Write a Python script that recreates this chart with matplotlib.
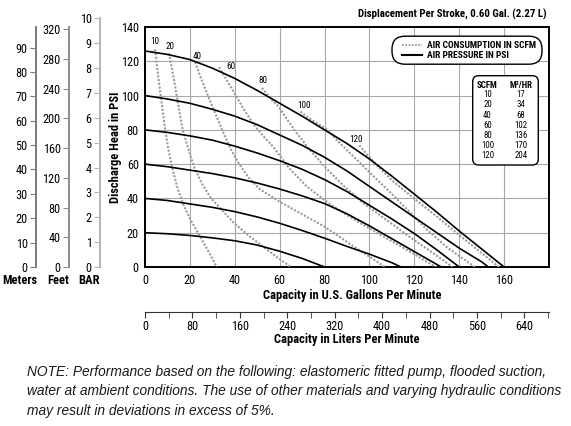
"""Diaphragm pump performance curve (air pressure / air consumption)."""

import matplotlib

matplotlib.use("Agg")
import matplotlib.pyplot as plt
from matplotlib import font_manager
from matplotlib.lines import Line2D
from matplotlib.patches import FancyBboxPatch

# --- data --------------------------------------------------------------------
# solid curves: air pressure (psi), one per supply pressure
p126_gpm = [0, 10, 20, 30, 40, 50, 60, 70, 80, 90, 100, 110, 120, 130, 140, 150, 160]
p126_psi = [126, 124, 121, 116, 110, 103, 95.5, 88, 80, 72, 63, 53, 42.5, 32, 21, 10.5, 0]
p100_gpm = [0, 10, 20, 30, 40, 50, 60, 70, 80, 90, 100, 110, 120, 130, 140, 150, 153]
p100_psi = [100, 98, 95.5, 92, 88, 83, 77, 71, 64, 56, 47, 38, 29, 20, 11, 3, 0]
p80_gpm = [0, 10, 20, 30, 40, 50, 60, 70, 80, 90, 100, 110, 120, 130, 140]
p80_psi = [80, 78.5, 76.5, 74, 70.5, 66.5, 62, 57, 51, 44, 36, 28, 19.5, 10, 0]
p60_gpm = [0, 10, 20, 30, 40, 50, 60, 70, 80, 90, 100, 110, 120, 132]
p60_psi = [60, 58.5, 56.5, 54.5, 52, 49, 45.5, 41.5, 37, 31, 24, 16.5, 9, 0]
p40_gpm = [0, 10, 20, 30, 40, 50, 60, 70, 80, 90, 100, 110, 114]
p40_psi = [40, 38.8, 36.8, 34.8, 32.3, 29.2, 25.5, 21.3, 16.8, 12, 7.5, 2.5, 0]
p20_gpm = [0, 10, 20, 30, 40, 50, 60, 70, 80]
p20_psi = [20, 19.4, 18.4, 17, 15.3, 12.8, 9.2, 5, 0]

# dotted curves: air consumption (scfm)
scfm10_gpm = [4.5, 6, 7.5, 9, 10.5, 12.3, 14.5, 17.2, 20.5, 24.5, 28.3, 32]
scfm10_psi = [127, 110, 95, 80, 68, 57, 46, 36, 27, 18, 9, 0]
scfm20_gpm = [10.7, 12.8, 14.8, 16.8, 19.3, 22, 25.3, 29.5, 34.2, 39, 45, 52, 58.5, 65]
scfm20_psi = [124.7, 110, 95, 80, 69, 58, 48.8, 40, 33.3, 26.5, 19.6, 12.5, 6, 0]
scfm40_gpm = [22.3, 25, 28, 31.5, 35, 38.5, 42, 46, 51, 59.5, 69, 80, 93, 107]
scfm40_psi = [119.5, 110, 100, 89, 78, 68, 60, 52.5, 45.5, 38.5, 31.5, 23.5, 12, 0]
scfm60_gpm = [33, 36, 39.9, 44, 49.1, 53, 57.3, 64, 72, 82, 91, 100, 110, 120, 129.5]
scfm60_psi = [116.6, 110, 101.3, 92, 81.9, 76, 69.8, 58, 47, 37, 29.5, 22.5, 15, 7.5, 0]
scfm80_gpm = [52.1, 55.5, 59.5, 66.5, 72.9, 80, 88, 97, 107, 118, 129, 137]
scfm80_psi = [104.5, 99, 93.5, 80, 69.2, 58.5, 48, 37.5, 28, 17.5, 7.5, 0]
scfm100_gpm = [69.2, 74, 80.4, 87, 94, 101, 108.5, 116.5, 125, 135, 147]
scfm100_psi = [90.6, 86, 80.9, 72, 63, 54, 44.5, 34, 22.5, 11, 0]
scfm120_gpm = [95.5, 99, 104, 110.5, 119.8, 129.5, 138.7, 148.2, 157.7]
scfm120_psi = [71, 65.5, 58.5, 50, 40, 30, 20, 10, 0]

scfm_labels = ["10", "20", "40", "60", "80", "100", "120"]
scfm_label_gpm = [4.5, 11.2, 23.2, 38.5, 52.7, 71, 93.8]
scfm_label_psi = [131.3, 128.9, 123, 116.7, 109, 94.5, 74.1]

table_scfm = ["10", "20", "40", "60", "80", "100", "120"]
table_m3hr = ["17", "34", "68", "102", "136", "170", "204"]

gpm_ticks = [0, 20, 40, 60, 80, 100, 120, 140, 160]
psi_ticks = [0, 20, 40, 60, 80, 100, 120, 140]
lpm_ticks = [0, 80, 160, 240, 320, 400, 480, 560, 640]
meter_ticks = [0, 10, 20, 30, 40, 50, 60, 70, 80, 90]
feet_ticks = [0, 40, 80, 120, 160, 200, 240, 280, 320]
bar_ticks = [0, 1, 2, 3, 4, 5, 6, 7, 8, 9, 10]

PSI_TO_M = 0.70307
PSI_TO_FT = 2.30666
PSI_TO_BAR = 0.0689476
GAL_TO_L = 3.78541

W, H = 571, 426


def px_rect(left, top, width, height):
    return [left / W, 1 - (top + height) / H, width / W, height / H]


# the original uses a narrow grotesque; take one if installed, else shrink Liberation Sans
names = {f.name for f in font_manager.fontManager.ttflist}
narrow = next((n for n in ["Liberation Sans Narrow", "Arial Narrow", "Roboto Condensed",
                           "Open Sans Condensed", "Noto Sans Condensed"] if n in names), None)
FAMILY, K = (narrow, 1.0) if narrow else ("Liberation Sans", 0.84)
plt.rcParams["font.family"] = [FAMILY, "DejaVu Sans"]

TICK = 8.8 * K
LABEL = 9.0 * K
TITLE = 7.8 * K
SMALL = 6.6 * K
LEGEND = 6.8 * K

fig = plt.figure(figsize=(W / 100, H / 100), dpi=100)

# --- main chart --------------------------------------------------------------
ax = fig.add_axes(px_rect(145, 27, 404, 240))
ax.set_xlim(0, 180)
ax.set_ylim(0, 140)
ax.set_xticks(range(0, 181, 20))
ax.set_xticklabels([str(t) for t in gpm_ticks] + [""])
ax.set_yticks(psi_ticks)
ax.tick_params(length=0, labelsize=TICK)
ax.tick_params(axis="y", pad=4.5)
ax.tick_params(axis="x", pad=5)
ax.grid(color="#a8a8a8", linewidth=0.8)
ax.set_axisbelow(True)
for sp in ax.spines.values():
    sp.set_linewidth(1.4)

solid = [(p126_gpm, p126_psi), (p100_gpm, p100_psi), (p80_gpm, p80_psi),
         (p60_gpm, p60_psi), (p40_gpm, p40_psi), (p20_gpm, p20_psi)]
dotted = [(scfm10_gpm, scfm10_psi), (scfm20_gpm, scfm20_psi), (scfm40_gpm, scfm40_psi),
          (scfm60_gpm, scfm60_psi), (scfm80_gpm, scfm80_psi), (scfm100_gpm, scfm100_psi),
          (scfm120_gpm, scfm120_psi)]
for q, p in dotted:
    ax.plot(q, p, color="#9a9a9a", linewidth=1.5, linestyle=(0, (1, 0.8)), zorder=3)
for q, p in solid:
    ax.plot(q, p, color="black", linewidth=1.2, zorder=4)
for lab, q, p in zip(scfm_labels, scfm_label_gpm, scfm_label_psi):
    ax.text(q, p, lab, fontsize=SMALL, ha="center", va="center", zorder=5)

# liters per minute scale
axl = fig.add_axes(px_rect(145, 311, 404, 0.5))
axl.set_xlim(0, 180 * GAL_TO_L)
axl.set_yticks([])
for side in ("top", "left", "right"):
    axl.spines[side].set_visible(False)
axl.spines["bottom"].set_color("#333333")
axl.set_xticks(lpm_ticks)
axl.set_xticks(range(40, 681, 80), minor=True)
axl.tick_params(axis="x", which="both", length=4, color="#333333", labelsize=TICK, pad=2)

# meters / feet / bar scales on the left
bar_height = 240 * 10 / (140 * PSI_TO_BAR)
for x, ticks, top, height, ymax, color in [
    (36, meter_ticks, 27, 240, 140 * PSI_TO_M, "#7a7a7a"),
    (69, feet_ticks, 27, 240, 140 * PSI_TO_FT, "#8c8c8c"),
    (100, bar_ticks, 267 - bar_height, bar_height, 10, "#b4b4b4"),
]:
    a = fig.add_axes(px_rect(x, top, 1, height))
    a.set_ylim(0, ymax)
    a.set_xticks([])
    a.set_yticks(ticks)
    for side in ("top", "bottom", "right"):
        a.spines[side].set_visible(False)
    a.spines["left"].set_color(color)
    a.spines["left"].set_linewidth(1.4)
    a.tick_params(axis="y", length=4.5, color=color, labelsize=TICK, pad=1.5)
    a.patch.set_alpha(0)

# --- overlay in pixel coordinates ------------------------------------------
ov = fig.add_axes([0, 0, 1, 1])
ov.set_xlim(0, W)
ov.set_ylim(H, 0)
ov.axis("off")

bold = dict(fontweight="bold", fontsize=LABEL)
ov.text(547, 14, "Displacement Per Stroke, 0.60 Gal. (2.27 L)", ha="right", va="center",
        fontweight="bold", fontsize=TITLE)
ov.text(116, 147, "Discharge Head in PSI", rotation=90, ha="center", va="center", **bold)
ov.text(352, 296, "Capacity in U.S. Gallons Per Minute", ha="center", va="center", **bold)
ov.text(347, 340, "Capacity in Liters Per Minute", ha="center", va="center", **bold)
ov.text(20, 281, "Meters", ha="center", va="center", **bold)
ov.text(58, 281, "Feet", ha="center", va="center", **bold)
ov.text(89, 281, "BAR", ha="center", va="center", **bold)

# legend box
ov.add_patch(FancyBboxPatch((392, 36.2), 150, 28, boxstyle="round,pad=0,rounding_size=13",
                            facecolor="white", edgecolor="black", linewidth=1.0))
ov.add_line(Line2D([402, 422], [45.3, 45.3], color="#9a9a9a", linewidth=1.3, linestyle=(0, (1, 0.8))))
ov.add_line(Line2D([402, 422], [55.3, 55.3], color="black", linewidth=1.5))
ov.text(427, 45.3, "AIR CONSUMPTION IN SCFM", ha="left", va="center", fontsize=LEGEND, fontweight="bold")
ov.text(427, 55.3, "AIR PRESSURE IN PSI", ha="left", va="center", fontsize=LEGEND, fontweight="bold")

# scfm to m3/hr table
ov.add_patch(FancyBboxPatch((472.7, 75.7), 65.6, 89.3, boxstyle="round,pad=0,rounding_size=6",
                            facecolor="white", edgecolor="black", linewidth=1.0))
ov.text(487.5, 85, "SCFM", ha="center", va="center", fontsize=SMALL - 0.2, fontweight="bold")
ov.text(520.5, 85, "M³/HR", ha="center", va="center", fontsize=SMALL - 0.2, fontweight="bold")
for i, (s, m) in enumerate(zip(table_scfm, table_m3hr)):
    y = 94.8 + 10.1 * i
    ov.text(487.5, y, s, ha="center", va="center", fontsize=SMALL - 0.2)
    ov.text(521, y, m, ha="center", va="center", fontsize=SMALL - 0.2)

# note
note = ["NOTE: Performance based on the following: elastomeric fitted pump, flooded suction,",
        "water at ambient conditions. The use of other materials and varying hydraulic conditions",
        "may result in deviations in excess of 5%."]
for i, line in enumerate(note):
    ov.text(27, 372 + 19.5 * i, line, ha="left", va="center", fontsize=9.9,
            fontstyle="italic", family=["Liberation Sans", "DejaVu Sans"], color="#1a1a1a")

fig.savefig("out.png", dpi=100)
plt.close(fig)
